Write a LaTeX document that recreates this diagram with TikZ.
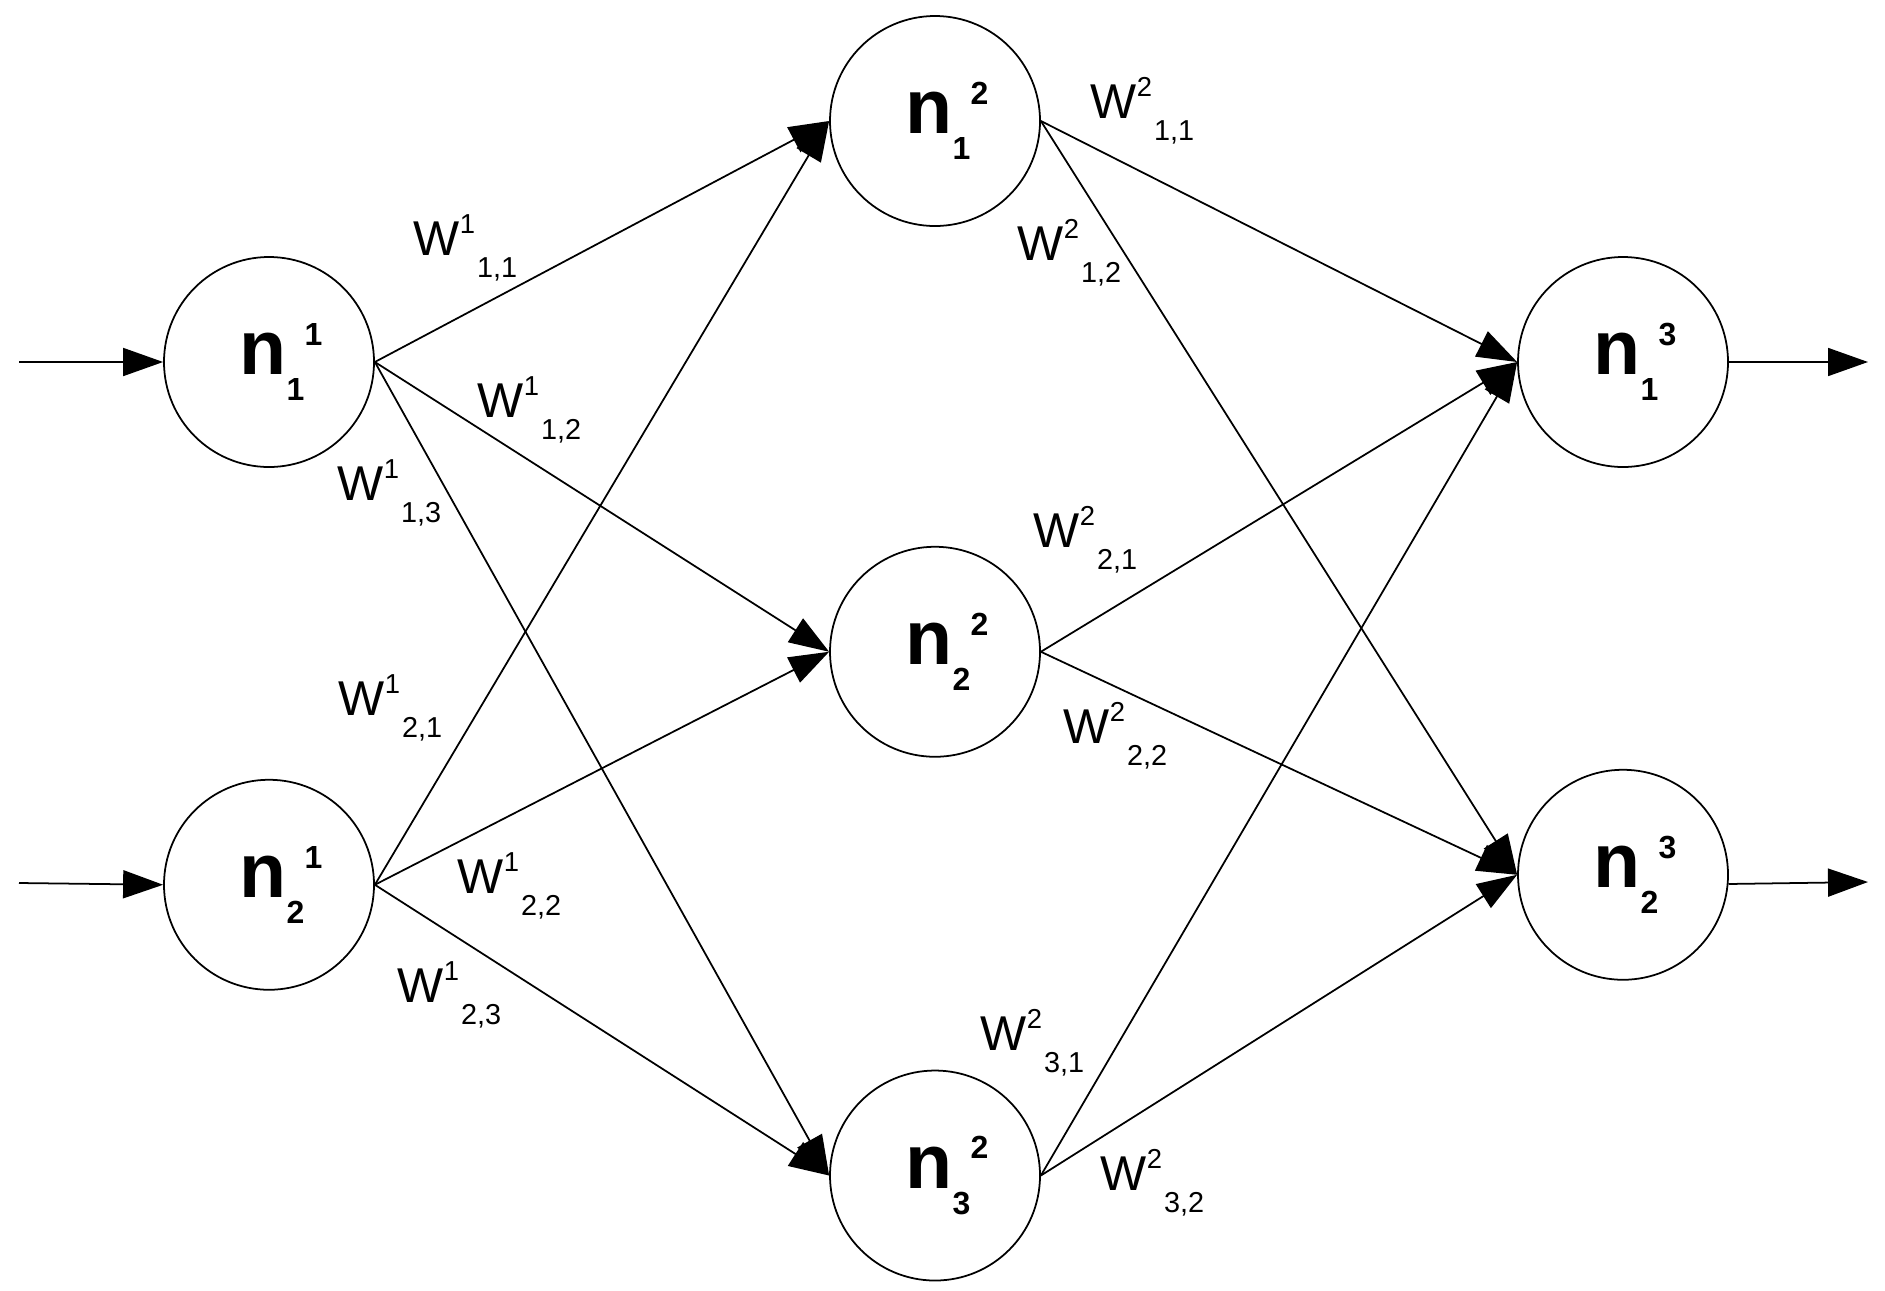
\documentclass[tikz,border=0pt]{standalone}
\usepackage{fontspec}
\setmainfont{Liberation Sans}
\usetikzlibrary{positioning,arrows.meta}

% neuron label: n, subscript, superscript
\newcommand{\nlab}[2]{\kern0.24cm{\fontsize{21.9pt}{22pt}\selectfont\bfseries n}\raisebox{-7.4pt}{\fontsize{9.1pt}{10pt}\selectfont\bfseries #1}\raisebox{8.3pt}{\fontsize{9.1pt}{10pt}\selectfont\bfseries #2}}
% weight label: W, superscript, subscript
\newcommand{\wlab}[2]{{\fontsize{13.9pt}{14pt}\selectfont W}\raisebox{6.1pt}{\fontsize{7.8pt}{8pt}\selectfont #1}\kern0.6pt\raisebox{-6.3pt}{\fontsize{8.2pt}{9pt}\selectfont #2}}

\begin{document}
\begin{tikzpicture}[
    node distance=3.1cm,
    neuron/.style={circle, draw, line width=0.5pt, minimum size=2.1cm, inner sep=0pt},
    weight/.style={anchor=base west, inner sep=0pt},
    arrow/.style={-{Triangle[length=0.4cm, width=0.28cm]}, line width=0.5pt}
]
    \useasboundingbox (0,0) rectangle (18.85,-12.90);

    % input layer
    \node[neuron] (n11) at (2.69,-3.62) {\nlab{1}{1}};
    \node[neuron, below=3.11cm of n11] (n21) {\nlab{2}{1}};
    % hidden layer
    \node[neuron] (n12) at (9.35,-1.21) {\nlab{1}{2}};
    \node[neuron, below=3.19cm of n12] (n22) {\nlab{2}{2}};
    \node[neuron, below=3.12cm of n22] (n32) {\nlab{3}{2}};
    % output layer
    \node[neuron] (n13) at (16.23,-3.62) {\nlab{1}{3}};
    \node[neuron, below=3.01cm of n13] (n23) {\nlab{2}{3}};

    \coordinate (in1) at (0.19,-3.62);
    \coordinate (in2) at (0.19,-8.83);
    \coordinate (out1) at (18.68,-3.62);
    \coordinate (out2) at (18.68,-8.82);

    \draw[arrow] (in1) -- (n11.west);
    \draw[arrow] (in2) -- (n21.west);

    \draw[arrow] (n11.east) -- (n12.west);
    \draw[arrow] (n11.east) -- (n22.west);
    \draw[arrow] (n11.east) -- (n32.west);
    \draw[arrow] (n21.east) -- (n12.west);
    \draw[arrow] (n21.east) -- (n22.west);
    \draw[arrow] (n21.east) -- (n32.west);

    \draw[arrow] (n12.east) -- (n13.west);
    \draw[arrow] (n12.east) -- (n23.west);
    \draw[arrow] (n22.east) -- (n13.west);
    \draw[arrow] (n22.east) -- (n23.west);
    \draw[arrow] (n32.east) -- (n13.west);
    \draw[arrow] (n32.east) -- (n23.west);

    \draw[arrow] (n13.east) -- (out1);
    \draw[arrow] (n23.-5) -- (out2);

    % weights, first layer
    \node[weight] (w111) at (4.13,-2.55) {\wlab{1}{1,1}};
    \node[weight] (w112) at (4.77,-4.17) {\wlab{1}{1,2}};
    \node[weight] (w113) at (3.37,-5.00) {\wlab{1}{1,3}};
    \node[weight] (w121) at (3.38,-7.15) {\wlab{1}{2,1}};
    \node[weight] (w122) at (4.57,-8.93) {\wlab{1}{2,2}};
    \node[weight] (w123) at (3.97,-10.02) {\wlab{1}{2,3}};
    % weights, second layer
    \node[weight] (w211) at (10.90,-1.18) {\wlab{2}{1,1}};
    \node[weight] (w212) at (10.17,-2.60) {\wlab{2}{1,2}};
    \node[weight] (w221) at (10.33,-5.47) {\wlab{2}{2,1}};
    \node[weight] (w222) at (10.63,-7.43) {\wlab{2}{2,2}};
    \node[weight] (w231) at (9.80,-10.50) {\wlab{2}{3,1}};
    \node[weight] (w232) at (11.00,-11.90) {\wlab{2}{3,2}};
\end{tikzpicture}
\end{document}
